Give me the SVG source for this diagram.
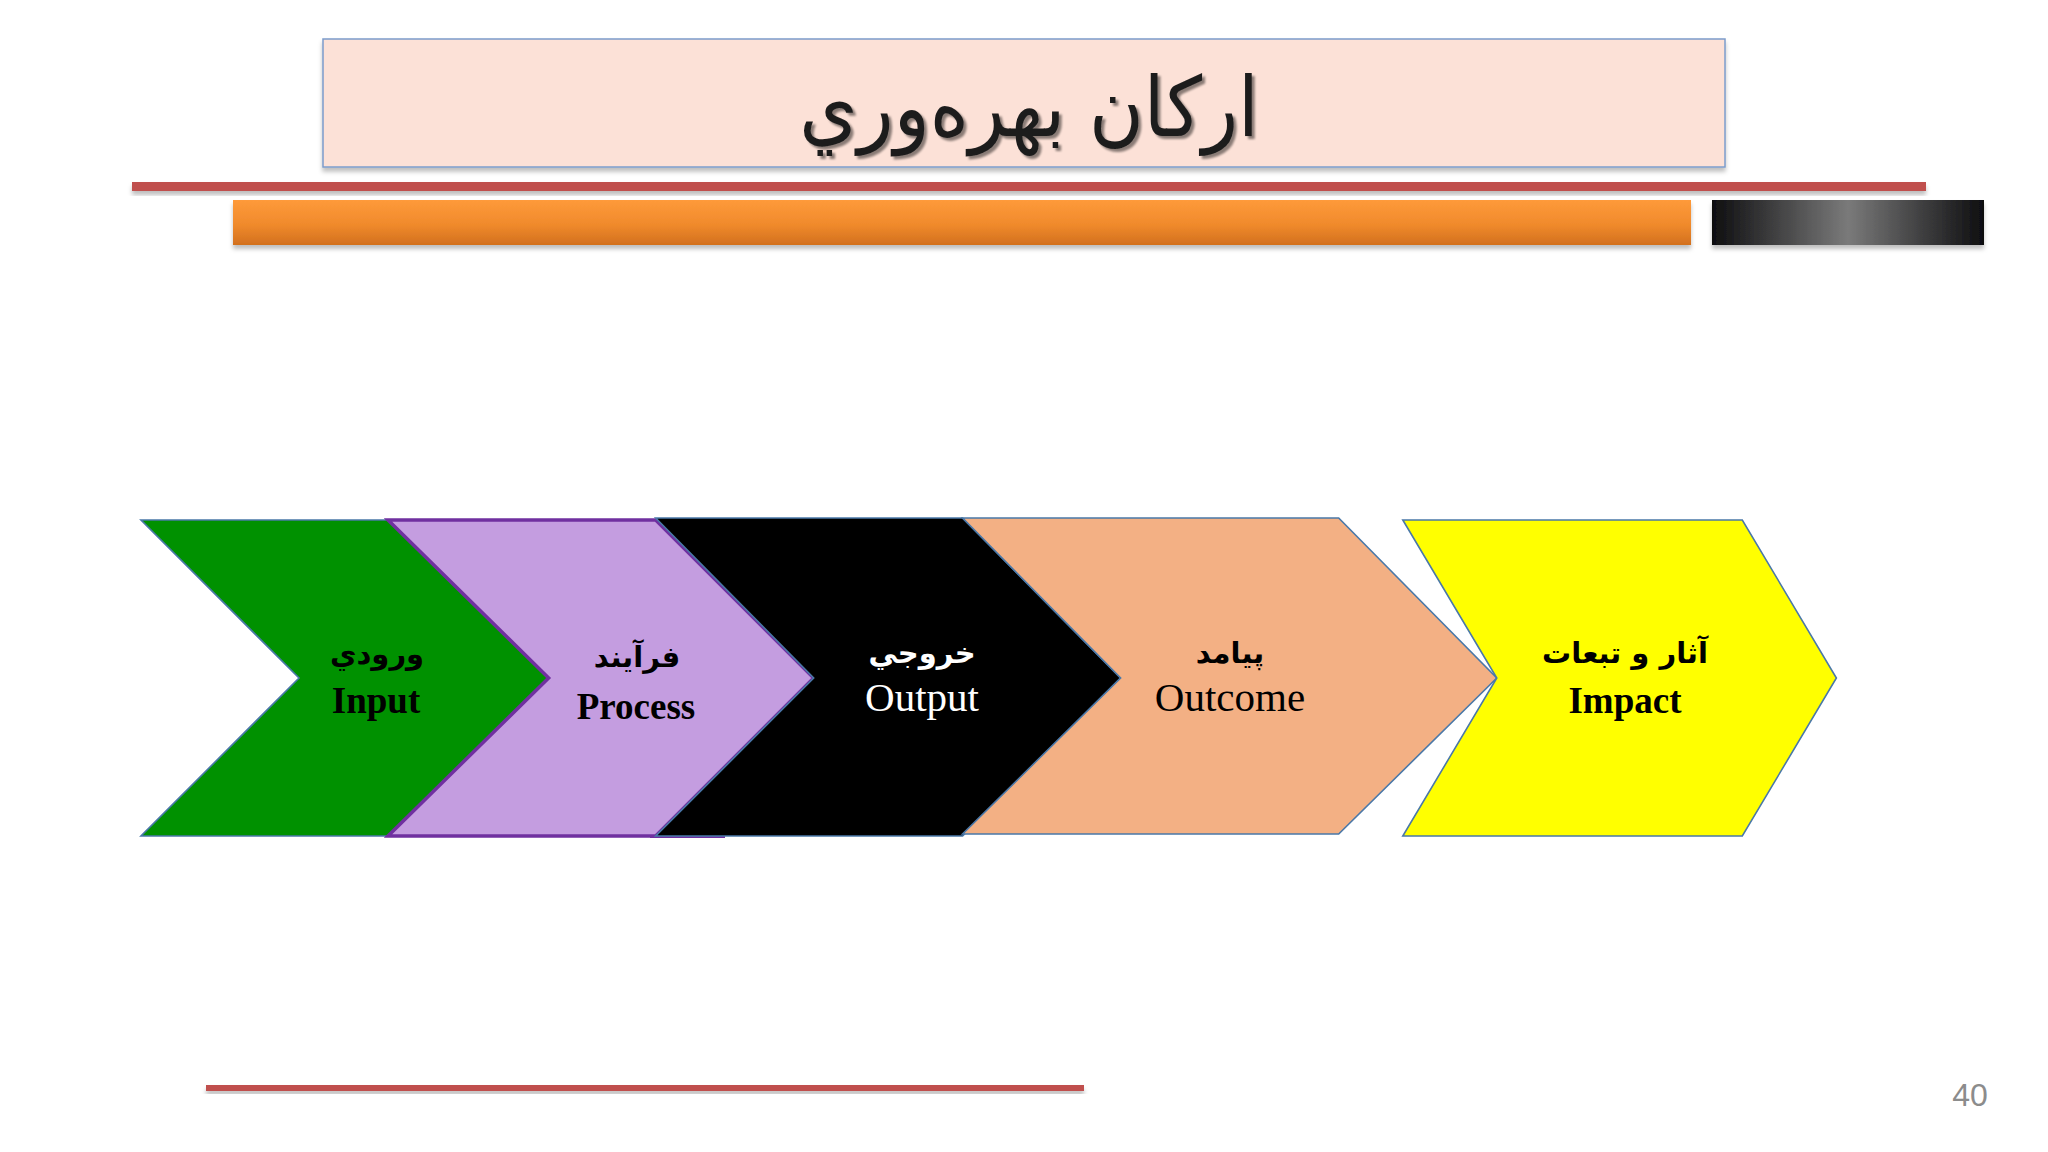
<svg xmlns="http://www.w3.org/2000/svg" width="2048" height="1152" viewBox="0 0 2048 1152">
<defs>
<linearGradient id="orangeGrad" x1="0" y1="0" x2="0" y2="1">
<stop offset="0" stop-color="#FE9A3A"/>
<stop offset="0.55" stop-color="#F08A2C"/>
<stop offset="1" stop-color="#D2701E"/>
</linearGradient>
<linearGradient id="darkGrad" x1="0" y1="0" x2="1" y2="0">
<stop offset="0" stop-color="#0E0E10"/>
<stop offset="0.5" stop-color="#7A7A7A"/>
<stop offset="1" stop-color="#0E0E10"/>
</linearGradient>
<filter id="shadow" x="-5%" y="-30%" width="110%" height="180%">
<feDropShadow dx="0" dy="4" stdDeviation="2" flood-color="#000" flood-opacity="0.25"/>
</filter>
<filter id="textShadow" x="-10%" y="-20%" width="120%" height="140%">
<feDropShadow dx="3" dy="3" stdDeviation="1" flood-color="#000" flood-opacity="0.45"/>
</filter>
<style>
.chev{stroke:#4A78A8;stroke-width:1.6;stroke-linejoin:miter}
.ar{font-family:"DejaVu Sans","Noto Sans",sans-serif;font-weight:bold;font-size:29px;text-anchor:middle}
.en{font-family:"Liberation Serif","Times New Roman",serif;font-weight:bold;font-size:37px;text-anchor:middle}
.enr{font-family:"Liberation Serif","Times New Roman",serif;font-size:41px;text-anchor:middle}
</style>
</defs>
<rect width="2048" height="1152" fill="#FFFFFF"/>

<g id="title">
<rect x="323" y="39" width="1402" height="128" fill="#FCE1D7" stroke="#7C9CCB" stroke-width="1.5" filter="url(#shadow)"/>
<text x="1029" y="136" font-family="'DejaVu Sans Condensed','DejaVu Sans',sans-serif" font-size="83" fill="#1C1C1C" text-anchor="middle" filter="url(#textShadow)">اركان بهره‌وري</text>
</g>

<g id="header-bars">
<rect x="132" y="182" width="1794" height="9" fill="#C0504D" filter="url(#shadow)"/>
<rect x="233" y="200" width="1458" height="45" fill="url(#orangeGrad)" filter="url(#shadow)"/>
<rect x="1712" y="200" width="272" height="45" fill="url(#darkGrad)" filter="url(#shadow)"/>
</g>

<g id="node-input">
<polygon class="chev" points="141,520 388,520 548.6,678 388,836 141,836 299,678" fill="#009100"/>
<text class="ar" x="377" y="664" fill="#000">ورودي</text>
<text class="en" x="376" y="713" fill="#000">Input</text>
</g>

<g id="node-process">
<line x1="650" y1="836" x2="725" y2="836" stroke="#7030A0" stroke-width="4"/>
<polygon points="388,520 655.7,520 813.7,678 655.7,836 388,836 548.6,678" fill="#C49DE0" stroke="#7030A0" stroke-width="3.5"/>
<text class="ar" x="637" y="667" font-size="34" fill="#000">فرآيند</text>
<text class="en" x="636" y="719" font-size="38" fill="#000">Process</text>
</g>

<g id="node-output">
<polygon class="chev" points="655.7,518 962.6,518 1120.6,678 962.6,836 655.7,836 813.7,678" fill="#000000"/>
<text class="ar" x="922" y="663" fill="#FFFFFF">خروجي</text>
<text class="enr" x="922" y="711" fill="#FFFFFF">Output</text>
</g>

<g id="node-outcome">
<polygon class="chev" points="962.6,518 1338.7,518 1496.8,678 1338.7,834 962.6,834 1120.6,678" fill="#F3B084"/>
<text class="ar" x="1230" y="663" fill="#000">پيامد</text>
<text class="enr" x="1230" y="711" font-size="42" fill="#000">Outcome</text>
</g>

<g id="node-impact">
<polygon class="chev" points="1402.8,520 1742.3,520 1836.4,678 1742.3,836 1402.8,836 1496.8,678" fill="#FFFF00"/>
<text class="ar" x="1625" y="663" font-size="27" fill="#000">آثار و تبعات</text>
<text class="en" x="1625" y="713" font-size="40" fill="#000">Impact</text>
</g>

<g id="connectors"></g>

<g id="footer">
<rect x="206" y="1085" width="878" height="6" fill="#C0504D" filter="url(#shadow)"/>
<text x="1970" y="1106" font-family="'Liberation Sans',Arial,sans-serif" font-size="32" fill="#8C8C8C" text-anchor="middle">40</text>
</g>
</svg>
